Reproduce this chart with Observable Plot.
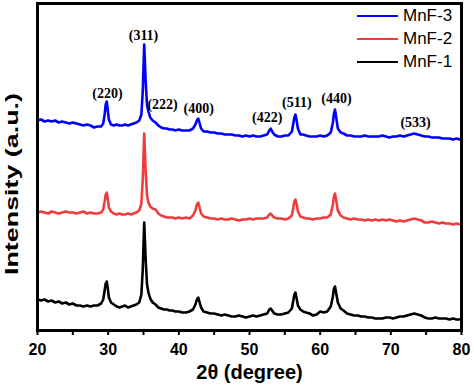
<!DOCTYPE html>
<html>
<head>
<meta charset="utf-8">
<script src="https://cdn.jsdelivr.net/npm/d3@7"></script>
<script src="https://cdn.jsdelivr.net/npm/@observablehq/plot@0.6"></script>
<style>
  html, body { margin: 0; padding: 0; background: #fff; }
  #wrap { position: relative; width: 474px; height: 389px; font-family: "Liberation Sans", Arial, sans-serif; }
  #legend { position: absolute; left: 357px; top: 4px; }
  .lrow { display: flex; align-items: center; height: 23px; }
  .lline { width: 41px; height: 0; border-top: 2.5px solid; margin-right: 5px; }
  .ltext { font-size: 17px; color: #000; line-height: 23px; }
</style>
</head>
<body>
<div id="wrap"></div>
<script>
// 2θ positions (degree)
const twoTheta = [
  20, 20.5, 21, 21.5, 22, 22.5, 23, 23.5, 24, 24.5,
  25, 25.5, 26, 26.5, 27, 27.5, 28, 28.5, 29, 29.3,
  29.5, 29.65, 29.8, 29.95, 30.1, 30.4, 30.8, 31.2, 31.6, 32,
  32.4, 32.8, 33.2, 33.6, 34, 34.4, 34.7, 34.9, 35.1, 35.3,
  35.5, 35.7, 35.95, 36.3, 36.7, 37.1, 37.5, 37.9, 38.3, 38.7,
  39.1, 39.5, 40, 40.5, 41, 41.5, 42, 42.35, 42.55, 42.75,
  42.95, 43.15, 43.5, 44, 44.5, 45, 45.5, 46, 46.5, 47,
  47.5, 48, 48.5, 49, 49.5, 50, 50.5, 51, 51.5, 52,
  52.5, 52.8, 53, 53.2, 53.5, 54, 54.5, 55, 55.5, 56,
  56.2, 56.35, 56.5, 56.65, 56.85, 57.2, 57.6, 58, 58.5, 59,
  59.5, 60, 60.5, 61, 61.5, 61.8, 61.95, 62.1, 62.25, 62.5,
  62.9, 63.3, 63.8, 64.3, 64.8, 65.3, 65.8, 66.3, 66.8, 67.3,
  67.8, 68.3, 68.8, 69.3, 69.8, 70.3, 70.8, 71.3, 71.8, 72.3,
  72.8, 73.3, 73.8, 74.3, 74.8, 75.3, 75.8, 76.3, 76.8, 77.3,
  77.8, 78.3, 78.8, 79.3, 79.8, 80
];
// Intensity (a.u., stacked with offsets as in the figure)
const mnf1 = [
  31, 30, 31, 29, 30, 28, 29, 27, 28, 26,
  27, 25, 25, 24, 25, 24, 25, 25, 27, 31,
  40, 47, 49, 42, 33, 28, 26, 24, 23, 24,
  25, 23, 24, 25, 26, 28, 36, 62, 108, 72,
  46, 38, 32, 28, 26, 23, 22, 21, 21, 20,
  20, 19, 19, 18, 18, 19, 21, 26, 31, 33,
  28, 23, 19, 18, 17, 17, 16, 15, 16, 15,
  14, 14, 15, 14, 13, 14, 15, 14, 15, 16,
  17, 21, 22, 20, 17, 16, 16, 17, 18, 22,
  30, 36, 38, 33, 25, 21, 19, 18, 17, 15,
  16, 19, 18, 19, 24, 34, 42, 44, 38, 28,
  22, 20, 17, 16, 15, 15, 14, 14, 13, 13,
  12, 12, 12, 13, 13, 12, 13, 14, 14, 15,
  16, 17, 16, 15, 13, 12, 12, 13, 12, 12,
  12, 11, 12, 11, 11, 10
];
const mnf2 = [
  118, 119, 118, 117, 119, 118, 117, 118, 119, 118,
  118, 117, 118, 119, 117, 118, 117, 117, 118, 121,
  129, 136, 138, 131, 123, 119, 117, 116, 117, 116,
  116, 117, 116, 117, 118, 120, 127, 152, 197, 160,
  135, 128, 124, 122, 121, 117, 115, 114, 113, 113,
  113, 112, 113, 112, 113, 112, 115, 120, 126, 128,
  123, 117, 114, 113, 112, 112, 111, 112, 111, 111,
  112, 111, 110, 111, 111, 112, 111, 112, 112, 112,
  113, 116, 117, 115, 113, 112, 112, 111, 112, 115,
  123, 129, 131, 127, 119, 114, 113, 112, 112, 111,
  112, 112, 113, 113, 116, 126, 134, 137, 131, 120,
  115, 113, 112, 111, 112, 111, 111, 110, 111, 110,
  111, 110, 111, 110, 111, 110, 109, 110, 109, 110,
  111, 112, 111, 110, 108, 108, 109, 108, 107, 108,
  107, 107, 106, 107, 106, 106
];
const mnf3 = [
  210, 211, 209, 210, 209, 210, 208, 209, 208, 207,
  208, 207, 206, 205, 206, 205, 203, 204, 204, 207,
  216, 226, 229, 220, 211, 206, 205, 206, 205, 205,
  206, 205, 206, 207, 208, 210, 216, 240, 286, 250,
  225, 219, 213, 210, 208, 205, 203, 202, 202, 201,
  201, 200, 201, 200, 200, 200, 202, 206, 210, 212,
  207, 202, 199, 199, 198, 198, 197, 197, 196, 196,
  196, 195, 195, 194, 195, 194, 195, 194, 194, 195,
  196, 200, 202, 199, 196, 194, 194, 195, 195, 199,
  207, 213, 216, 211, 202, 196, 196, 195, 194, 194,
  194, 195, 194, 195, 198, 208, 217, 221, 214, 202,
  198, 197, 195, 195, 194, 194, 194, 195, 194, 194,
  194, 194, 195, 194, 193, 194, 194, 195, 194, 195,
  196, 197, 196, 195, 194, 194, 193, 193, 193, 192,
  192, 192, 191, 192, 191, 191
];
const seriesNames = ["MnF-1", "MnF-2", "MnF-3"];
const seriesColors = ["#000000", "#f03c3c", "#0000ff"];
const legendOrder = ["MnF-3", "MnF-2", "MnF-1"];

// Peak (hkl) annotations
const peakLabels = ["(220)", "(311)", "(222)", "(400)", "(422)", "(511)", "(440)", "(533)"];
const labelTheta = [29.9, 35.0, 37.7, 42.8, 52.5, 56.7, 62.3, 73.5];
const labelIntensity = [237, 295, 226, 222, 213, 228, 232, 208];

const xTicks = [20, 30, 40, 50, 60, 70, 80];
const xMinorTicks = [25, 35, 45, 55, 65, 75];

const seriesValues = [mnf1, mnf2, mnf3];
const rows = seriesNames.flatMap((name, s) =>
  twoTheta.map((t, i) => ({name, t, v: seriesValues[s][i]})));
const labels = peakLabels.map((text, i) => ({text, t: labelTheta[i], v: labelIntensity[i]}));

const chart = Plot.plot({
  width: 474,
  height: 389,
  marginLeft: 37,
  marginRight: 13,
  marginTop: 3,
  marginBottom: 59,
  style: {fontFamily: "Liberation Sans, Arial, sans-serif", background: "white"},
  x: {domain: [20, 80], label: null},
  y: {domain: [0, 327], axis: null, label: null},
  color: {domain: seriesNames, range: seriesColors},
  marks: [
    Plot.line(rows, {x: "t", y: "v", z: "name", stroke: "name", strokeWidth: 2.6, strokeLinejoin: "round"}),
    Plot.text(labels, {x: "t", y: "v", text: "text", fontFamily: "Liberation Serif, Times New Roman, serif",
      fontWeight: "bold", fontSize: 14, fill: "#000", lineAnchor: "middle"}),
    Plot.axisX({ticks: xTicks, tickSize: 5, tickPadding: 8, fontSize: 16, fontWeight: "bold",
      strokeWidth: 2, label: null, fill: "#000"}),
    Plot.axisX({ticks: xMinorTicks, tickSize: 5, tickFormat: () => "", strokeWidth: 2, label: null}),
    Plot.frame({stroke: "#000", strokeWidth: 3}),
    Plot.text(["2θ (degree)"], {frameAnchor: "bottom", dy: 48, lineAnchor: "bottom",
      fontSize: 20, fontWeight: "bold", fill: "#000"}),
    Plot.text(["Intensity (a.u.)"], {frameAnchor: "left", rotate: -90, dx: -25, dy: 108,
      textAnchor: "start", lineAnchor: "middle", fontSize: 18, fontWeight: "bold", fill: "#000",
      className: "ytitle"})
  ]
});

d3.select(chart).selectAll(".ytitle text")
  .attr("textLength", 182)
  .attr("lengthAdjust", "spacingAndGlyphs");

const wrap = document.getElementById("wrap");
wrap.appendChild(chart);

const legend = document.createElement("div");
legend.id = "legend";
legendOrder.forEach(name => {
  const row = document.createElement("div");
  row.className = "lrow";
  const line = document.createElement("span");
  line.className = "lline";
  line.style.borderTopColor = seriesColors[seriesNames.indexOf(name)];
  const txt = document.createElement("span");
  txt.className = "ltext";
  txt.textContent = name;
  row.appendChild(line);
  row.appendChild(txt);
  legend.appendChild(row);
});
wrap.appendChild(legend);
</script>
</body>
</html>
